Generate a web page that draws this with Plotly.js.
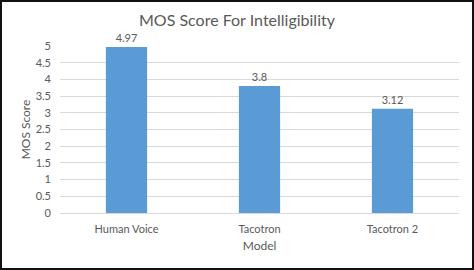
<!DOCTYPE html>
<html><head><meta charset="utf-8">
<script src="https://cdn.plot.ly/plotly-3.0.1.min.js"></script>
<style>
html,body{margin:0;padding:0;background:#fff;}
#wrap{position:relative;width:474px;height:270px;}
#chart{width:474px;height:270px;}
#frame{position:absolute;left:0;top:0;width:474px;height:270px;box-sizing:border-box;border:2px solid #111;pointer-events:none;}
</style></head>
<body>
<div id="wrap"><div id="chart"></div><div id="frame"></div></div>
<script>
const categories = ["Human Voice", "Tacotron", "Tacotron 2"];
const mosScores = [4.97, 3.8, 3.12];
const scoreLabels = ["4.97", "3.8", "3.12"];
const yTicks = [0, 0.5, 1, 1.5, 2, 2.5, 3, 3.5, 4, 4.5, 5];
const yTickText = ["0", "0.5", "1", "1.5", "2", "2.5", "3", "3.5", "4", "4.5", "5"];

const fontFam = "Lato, 'Open Sans', sans-serif";
const grey = "#595959";

Plotly.newPlot("chart", [{
  type: "bar",
  x: categories,
  y: mosScores,
  text: scoreLabels,
  textposition: "outside",
  textfont: {family: fontFam, size: 11, color: grey},
  cliponaxis: false,
  marker: {color: "#5b9bd5"},
  width: 0.31,
  hoverinfo: "none"
}], {
  width: 474, height: 270,
  margin: {l: 60, r: 15, t: 46, b: 57},
  paper_bgcolor: "#fff", plot_bgcolor: "#fff",
  showlegend: false,
  title: {text: "MOS Score For Intelligibility", font: {family: fontFam, size: 16, color: grey}, x: 0.5, xanchor: "center", y: 0.925, yanchor: "middle"},
  xaxis: {
    title: {text: "Model", font: {family: fontFam, size: 12, color: grey}, standoff: 7},
    tickfont: {family: fontFam, size: 11, color: grey},
    ticklabelstandoff: 6,
    showline: true, linecolor: "#d9d9d9", linewidth: 1,
    ticks: "", showgrid: false
  },
  yaxis: {
    title: {text: "MOS Score", font: {family: fontFam, size: 12, color: grey}, standoff: 2},
    range: [0, 5],
    tickvals: yTicks, ticktext: yTickText,
    tickfont: {family: fontFam, size: 11, color: grey},
    ticklabelstandoff: 8,
    gridcolor: "#d9d9d9", gridwidth: 1,
    zeroline: false, showline: false, ticks: "", ticklen: 0,
    fixedrange: true
  }
}, {displayModeBar: false, staticPlot: true});
</script>
</body></html>
